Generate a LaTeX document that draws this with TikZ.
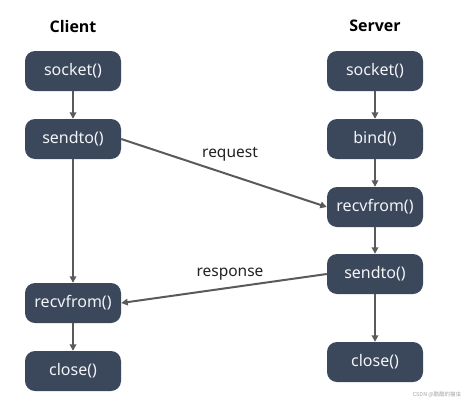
\documentclass[tikz,border=0pt]{standalone}
\usepackage{fontspec}
\setmainfont{Noto Sans}
\newfontfamily\hf{Open Sans}
\newfontfamily\cjk{Noto Sans CJK SC}
\usetikzlibrary{arrows.meta}
\definecolor{boxfill}{HTML}{3B475A}
\definecolor{boxtext}{HTML}{F2F4F7}
\definecolor{linecol}{HTML}{5A5A5A}
\definecolor{labcol}{HTML}{222222}
\tikzset{
  x=1pt,y=-1pt,
  fn/.style={draw=none,fill=boxfill,rounded corners=10pt,minimum width=96pt,minimum height=40pt,
    inner sep=0pt,text=boxtext,font=\fontsize{16}{18}\selectfont},
  head/.style={font=\hf\bfseries\fontsize{16}{19}\selectfont,text=black},
  lab/.style={font=\fontsize{15.5}{18}\selectfont,text=labcol},
  conn/.style={draw=linecol,line width=2pt,-{Triangle[length=6.5pt,width=6.5pt]}}
}
\begin{document}
\begin{tikzpicture}
\useasboundingbox (0,0) rectangle (474,402);
\fill[white] (0,0) rectangle (474,402);
\node[head] (ch) at (73,26) {Client};
\node[head] (sh) at (375,26) {Server};
\node[fn] (cs) at (73,71) {socket()};
\node[fn] (cd) at (73,139) {sendto()};
\node[fn] (cr) at (73,303) {recvfrom()};
\node[fn] (cc) at (73,371) {close()};
\node[fn] (ss) at (375,71) {socket()};
\node[fn] (sb) at (375,139) {bind()};
\node[fn] (sr) at (375,207) {recvfrom()};
\node[fn] (sd) at (375,274) {sendto()};
\node[fn] (sc) at (375,362) {close()};
\draw[conn] (cs) -- (cd);
\draw[conn] (cd) -- (cr);
\draw[conn] (cr) -- (cc);
\draw[conn] (ss) -- (sb);
\draw[conn] (sb) -- (sr);
\draw[conn] (sr) -- (sd);
\draw[conn] (sd) -- (sc);
\draw[conn] (cd.east) -- (sr.west);
\draw[conn] (sd.west) -- (cr.east);
\node[lab] (req) at (230,154) {request};
\node[lab] (resp) at (230,274) {response};
\node[font=\cjk\fontsize{5.5}{6}\selectfont,text=black!35] (wm) at (437,395) {CSDN @酷酷的猫虫};
\end{tikzpicture}
\end{document}
